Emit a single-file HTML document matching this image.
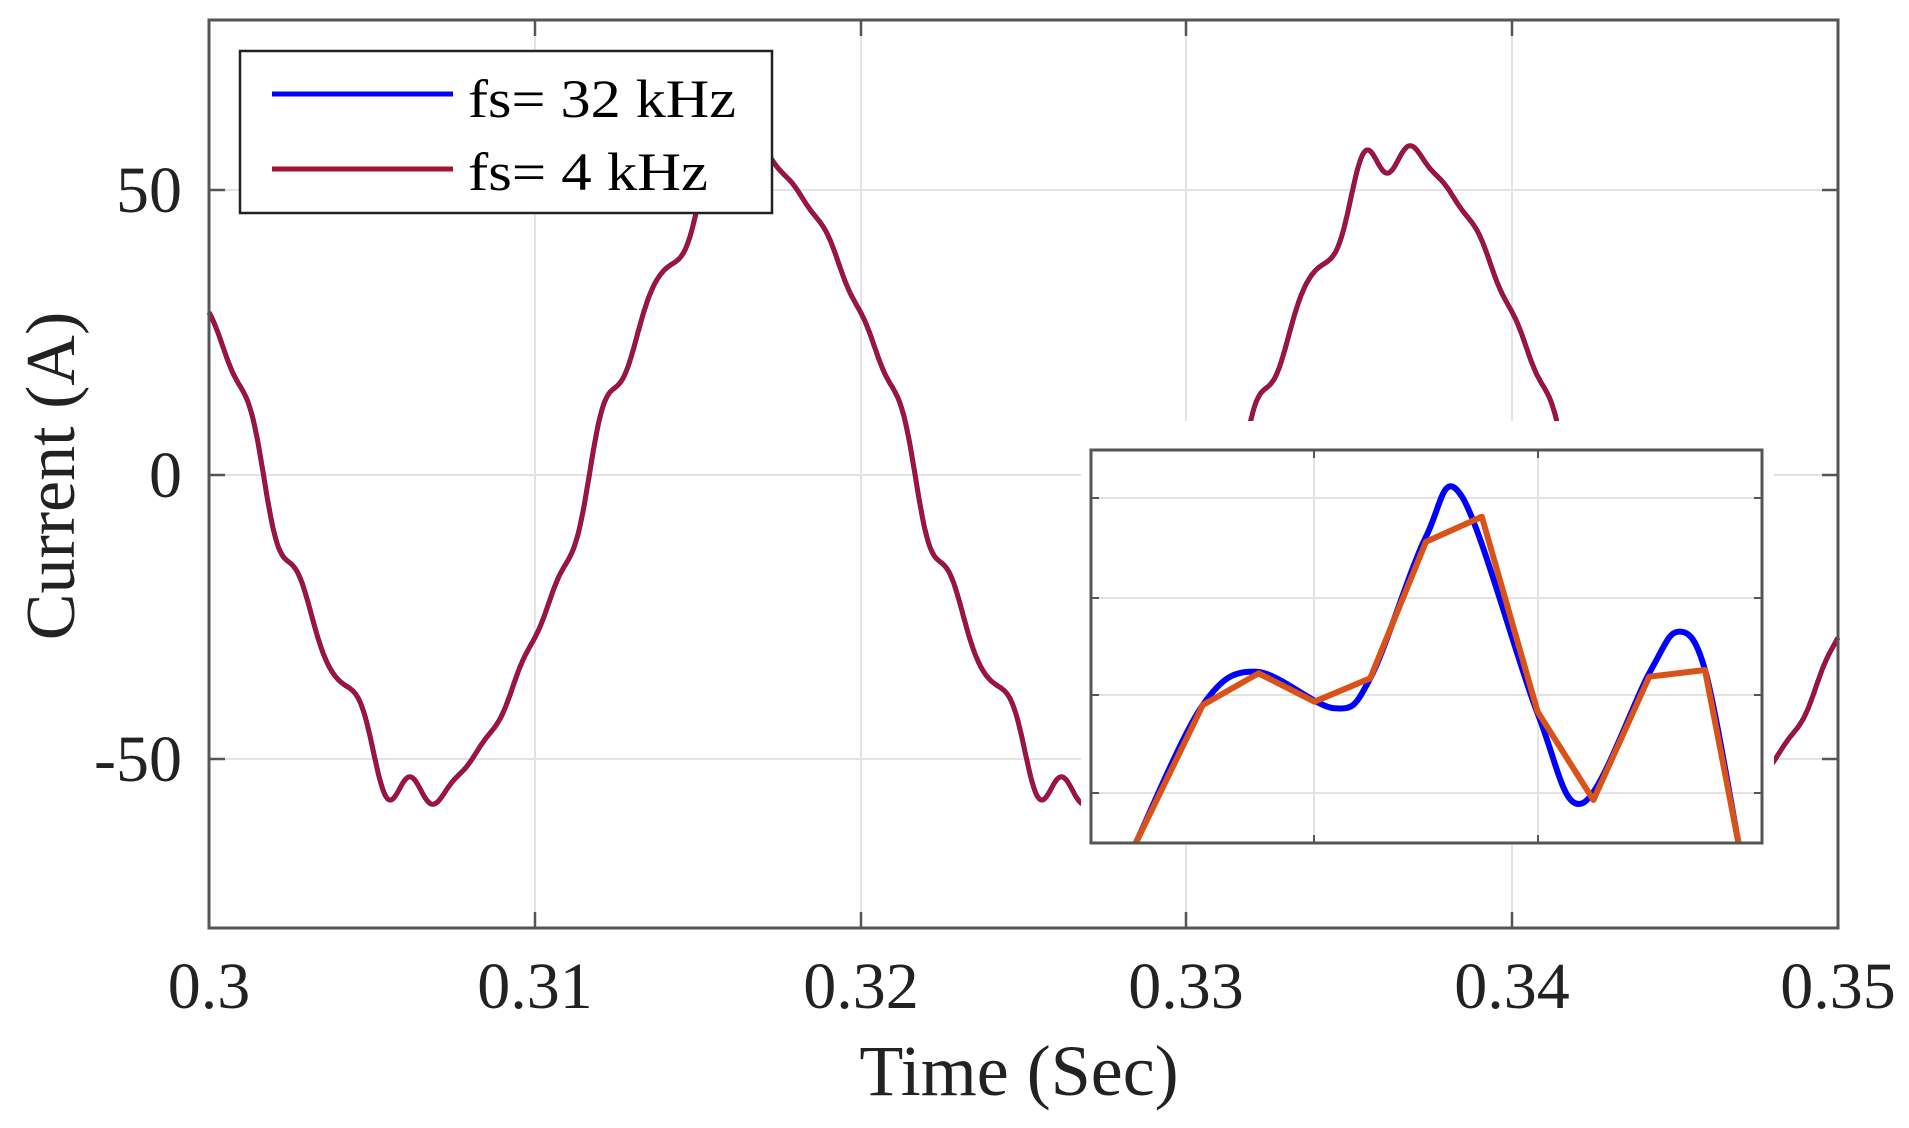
<!DOCTYPE html>
<html><head><meta charset="utf-8"><style>html,body{margin:0;padding:0;background:#fff;}svg{display:block}</style></head>
<body>
<svg id="s" width="1909" height="1128" viewBox="0 0 1909 1128" xmlns="http://www.w3.org/2000/svg" font-family="'Liberation Serif', serif">
<rect width="1909" height="1128" fill="#fff"/>
<g stroke="#e3e3e3" stroke-width="2">
<line x1="535" y1="20" x2="535" y2="928"/>
<line x1="861" y1="20" x2="861" y2="928"/>
<line x1="1186" y1="20" x2="1186" y2="928"/>
<line x1="1512" y1="20" x2="1512" y2="928"/>
<line x1="209" y1="190" x2="1838" y2="190"/>
<line x1="209" y1="475" x2="1838" y2="475"/>
<line x1="209" y1="759" x2="1838" y2="759"/>
</g>
<g id="main" fill="none" stroke-width="4.5" stroke-linejoin="round"></g>
<rect x="1081" y="421" width="693" height="424" fill="#fff"/>
<g stroke="#e3e3e3" stroke-width="2">
<line x1="1314" y1="450" x2="1314" y2="843"/>
<line x1="1538" y1="450" x2="1538" y2="843"/>
<line x1="1091" y1="498" x2="1762" y2="498"/>
<line x1="1091" y1="598" x2="1762" y2="598"/>
<line x1="1091" y1="695" x2="1762" y2="695"/>
<line x1="1091" y1="793" x2="1762" y2="793"/>
</g>
<g id="inset" fill="none" stroke-linejoin="round"></g>
<rect x="1091" y="450" width="671" height="393" fill="none" stroke="#555" stroke-width="3"/>
<g stroke="#555" stroke-width="2">
<line x1="1314" y1="450" x2="1314" y2="458"/><line x1="1538" y1="450" x2="1538" y2="458"/>
<line x1="1314" y1="843" x2="1314" y2="835"/><line x1="1538" y1="843" x2="1538" y2="835"/>
<line x1="1091" y1="498" x2="1099" y2="498"/><line x1="1091" y1="598" x2="1099" y2="598"/><line x1="1091" y1="695" x2="1099" y2="695"/><line x1="1091" y1="793" x2="1099" y2="793"/>
<line x1="1762" y1="498" x2="1754" y2="498"/><line x1="1762" y1="598" x2="1754" y2="598"/><line x1="1762" y1="695" x2="1754" y2="695"/><line x1="1762" y1="793" x2="1754" y2="793"/>
</g>
<rect x="209" y="20" width="1629" height="908" fill="none" stroke="#555" stroke-width="3"/>
<g stroke="#555" stroke-width="2.5">
<line x1="535" y1="20" x2="535" y2="36"/><line x1="861" y1="20" x2="861" y2="36"/><line x1="1186" y1="20" x2="1186" y2="36"/><line x1="1512" y1="20" x2="1512" y2="36"/>
<line x1="535" y1="928" x2="535" y2="912"/><line x1="861" y1="928" x2="861" y2="912"/><line x1="1186" y1="928" x2="1186" y2="912"/><line x1="1512" y1="928" x2="1512" y2="912"/>
<line x1="209" y1="190" x2="225" y2="190"/><line x1="209" y1="475" x2="225" y2="475"/><line x1="209" y1="759" x2="225" y2="759"/>
<line x1="1838" y1="190" x2="1822" y2="190"/><line x1="1838" y1="475" x2="1822" y2="475"/><line x1="1838" y1="759" x2="1822" y2="759"/>
</g>
<rect x="240" y="51" width="532" height="162" fill="#fff" stroke="#222" stroke-width="2.5"/>
<line x1="272" y1="94" x2="453" y2="94" stroke="#0000ff" stroke-width="5"/>
<line x1="272" y1="169" x2="453" y2="169" stroke="#a2142f" stroke-width="5"/>
<text x="468" y="117" font-size="54" textLength="268" lengthAdjust="spacingAndGlyphs">fs= 32 kHz</text>
<text x="468" y="190" font-size="54" textLength="240" lengthAdjust="spacingAndGlyphs">fs= 4 kHz</text>
<g font-size="66" fill="#222" text-anchor="end">
<text x="182" y="212">50</text>
<text x="182" y="497">0</text>
<text x="182" y="781">-50</text>
</g>
<g font-size="66" fill="#222" text-anchor="middle">
<text x="209" y="1008">0.3</text>
<text x="535" y="1008">0.31</text>
<text x="861" y="1008">0.32</text>
<text x="1186" y="1008">0.33</text>
<text x="1512" y="1008">0.34</text>
<text x="1838" y="1008">0.35</text>
<text x="1019" y="1095" font-size="72">Time (Sec)</text>
<text transform="translate(74,476) rotate(-90)" font-size="70">Current (A)</text>
</g>
</svg>
<script>
(function(){
var NS="http://www.w3.org/2000/svg";
function X(t){return 209+(t-0.3)/0.05*1629;}
function Y(v){return 475-v*5.685;}
var phi=2.608,w=2*Math.PI*50;
function f(t){
 var a=w*t+phi;
 return 56*Math.sin(a)+1.5*Math.sin(5*a+0.4)+1.2*Math.sin(7*a-0.3)+1.8*Math.sin(11*a+1.0)+1.5*Math.sin(13*a-0.6)+0.8*Math.sin(17*a);
}
var d="";
for(var i=0;i<=2000;i++){var t=0.3+0.05*i/2000;d+=(i?"L":"M")+X(t).toFixed(1)+" "+Y(f(t)).toFixed(1);}
var g=document.getElementById("main");
[["#0000ff",5],["#a2142f",4.5]].forEach(function(c){var p=document.createElementNS(NS,"path");p.setAttribute("d",d);p.setAttribute("stroke",c[0]);p.setAttribute("stroke-width",c[1]);g.appendChild(p);});
function cr(pts){var s="M"+pts[0][0]+" "+pts[0][1];for(var i=0;i<pts.length-1;i++){var p0=pts[i-1]||pts[i],p1=pts[i],p2=pts[i+1],p3=pts[i+2]||p2;
 s+="C"+(p1[0]+(p2[0]-p0[0])/6).toFixed(1)+" "+(p1[1]+(p2[1]-p0[1])/6).toFixed(1)+" "+(p2[0]-(p3[0]-p1[0])/6).toFixed(1)+" "+(p2[1]-(p3[1]-p1[1])/6).toFixed(1)+" "+p2[0]+" "+p2[1];}return s;}
var blue=[[1135.8,843],[1202.8,705],[1256.3,671.7],[1334.5,708.3],[1370.2,678.3],[1426,536.7],[1462,496.7],[1537.6,713.3],[1582.2,803.3],[1649.2,673.3],[1678.2,631.7],[1705,670],[1738.5,843]];
var org=[[1135.8,843],[1202.8,705],[1258.6,673.3],[1314.4,701.7],[1370.2,678.3],[1426,541.7],[1481.8,516.7],[1537.6,711.7],[1593.4,800],[1649.2,676.7],[1705,670],[1738.5,843]];
var gi=document.getElementById("inset");
var p=document.createElementNS(NS,"path");p.setAttribute("d",cr(blue));p.setAttribute("stroke","#0000ff");p.setAttribute("stroke-width","6");gi.appendChild(p);
var q=document.createElementNS(NS,"path");q.setAttribute("d","M"+org.map(function(a){return a[0]+" "+a[1];}).join("L"));q.setAttribute("stroke","#d95319");q.setAttribute("stroke-width","6");gi.appendChild(q);
})();
</script>
</body></html>
